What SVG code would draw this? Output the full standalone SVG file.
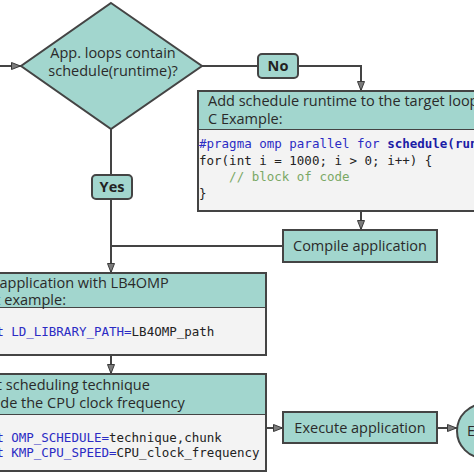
<svg xmlns="http://www.w3.org/2000/svg" width="474" height="474" viewBox="0 0 474 474">
<style>
.sh{fill:#a2d6ce;stroke:#444;stroke-width:2}
.cb{fill:#f3f3f3;stroke:none}
.fr{fill:none;stroke:#444;stroke-width:2}
.t{font-family:"Open Sans","Noto Sans",sans-serif;font-size:14.5px;fill:#2a2a2a}
.b{font-family:"Open Sans","Noto Sans",sans-serif;font-size:14.5px;font-weight:bold;fill:#222}
.c{font-family:"DejaVu Sans Mono",monospace;font-size:12.5px;fill:#222}
.kw{fill:#2b2bc4}
.kb{fill:#1c1ca6;font-weight:bold}
.cm{fill:#7aa865}
.ln{fill:none;stroke:#444;stroke-width:2}
</style>
<defs>
<marker id="ar" viewBox="0 0 10 8" refX="10" refY="4" markerWidth="10" markerHeight="8" markerUnits="userSpaceOnUse" orient="auto">
<path d="M0.5,0.5 L9.5,4 L0.5,7.5 Z" fill="#7c7c7c" stroke="#3a3a3a" stroke-width="1"/>
</marker>
</defs>
<rect width="474" height="474" fill="#fff"/>
<g id="connectors">
<path class="ln" d="M0,66 H21" marker-end="url(#ar)"/>
<path class="ln" d="M202,66 H361 V91" marker-end="url(#ar)"/>
<path class="ln" d="M111,129 V273" marker-end="url(#ar)"/>
<path class="ln" d="M361,211 V230" marker-end="url(#ar)"/>
<path class="ln" d="M283,246 H111"/>
<path class="ln" d="M111,355 V374" marker-end="url(#ar)"/>
<path class="ln" d="M266,428 H283" marker-end="url(#ar)"/>
<path class="ln" d="M437,428 H457" marker-end="url(#ar)"/>
</g>
<g id="decision">
<polygon class="sh" points="111,3 202,66 111,129 21,66"/>
<text class="t" x="113" y="58" text-anchor="middle">App. loops contain</text>
<text class="t" x="113" y="76" text-anchor="middle">schedule(runtime)?</text>
</g>
<g id="label-no">
<rect class="sh" x="258" y="54" width="40" height="24" rx="4"/>
<text class="b" x="278" y="71" text-anchor="middle">No</text>
</g>
<g id="label-yes">
<rect class="sh" x="92" y="175" width="40" height="24" rx="4"/>
<text class="b" x="112" y="192" text-anchor="middle">Yes</text>
</g>
<g id="add-schedule">
<rect class="sh" x="198" y="91" width="330" height="39" stroke="none"/>
<rect class="cb" x="198" y="130" width="330" height="81"/>
<rect class="fr" x="198" y="91" width="330" height="120"/>
<text class="t" x="208" y="106">Add schedule runtime to the target loop</text>
<text class="t" x="208" y="124">C Example:</text>
<text class="c" x="199" y="148" xml:space="preserve"><tspan class="kw">#pragma omp parallel for </tspan><tspan class="kb">schedule(runtime)</tspan></text>
<text class="c" x="199" y="165" xml:space="preserve">for(int i = 1000; i &gt; 0; i++) {</text>
<text class="c cm" x="199" y="181" xml:space="preserve">    // block of code</text>
<text class="c" x="199" y="198">}</text>
</g>
<g id="compile">
<rect class="sh" x="283" y="230" width="154" height="32"/>
<text class="t" x="360" y="251" text-anchor="middle">Compile application</text>
</g>
<g id="link">
<rect class="sh" x="-43" y="273" width="309" height="35" stroke="none"/>
<rect class="cb" x="-43" y="308" width="309" height="47"/>
<rect class="fr" x="-43" y="273" width="309" height="82"/>
<text class="t" x="-32" y="288">Link application with LB4OMP</text>
<text class="t" x="-38" y="305">Script example:</text>
<text class="c" x="-41.5" y="336"><tspan class="kw">export LD_LIBRARY_PATH=</tspan>LB4OMP_path</text>
</g>
<g id="select">
<rect class="sh" x="-43" y="374" width="309" height="41" stroke="none"/>
<rect class="cb" x="-43" y="415" width="309" height="56"/>
<rect class="fr" x="-43" y="374" width="309" height="97"/>
<text class="t" x="-38" y="390">Select scheduling technique</text>
<text class="t" x="-34" y="408">Provide the CPU clock frequency</text>
<text class="c" x="-41.5" y="442"><tspan class="kw">export OMP_SCHEDULE=</tspan>technique,chunk</text>
<text class="c" x="-41.5" y="457"><tspan class="kw">export KMP_CPU_SPEED=</tspan>CPU_clock_frequency</text>
</g>
<g id="execute">
<rect class="sh" x="283" y="412" width="154" height="31"/>
<text class="t" x="360" y="433" text-anchor="middle">Execute application</text>
</g>
<g id="end">
<circle class="sh" cx="484" cy="431" r="27"/>
<text class="t" x="467" y="436">End</text>
</g>
</svg>
